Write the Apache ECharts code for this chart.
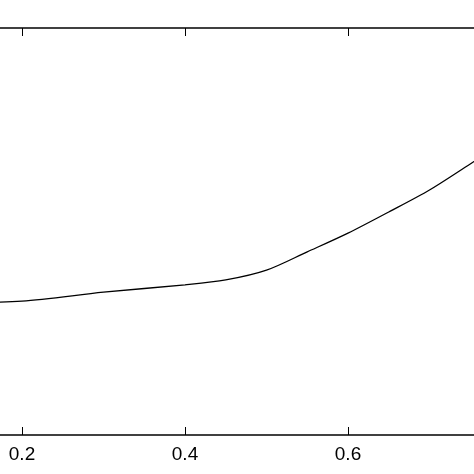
<!DOCTYPE html>
<html>
<head>
<meta charset="utf-8">
<script src="https://cdn.jsdelivr.net/npm/echarts@6/dist/echarts.min.js"></script>
<style>html,body{margin:0;padding:0;background:#fff}#main{width:474px;height:474px}</style>
</head>
<body>
<div id="main"></div>
<script>
// curve
var xValues = [0.1, 0.2, 0.3, 0.4, 0.45, 0.5, 0.55, 0.6, 0.65, 0.7, 0.75, 0.8];
var yValues = [0.324, 0.329, 0.351, 0.369, 0.381, 0.405, 0.45, 0.496, 0.548, 0.602, 0.666, 0.73];
var xTicks = [0.2, 0.4, 0.6];
// visible window of the cropped plot
var xMin = 0.173, xMax = 0.7546;

var pts = xValues.map(function (x, i) { return [x, yValues[i]]; });
function axis(pos, labels) {
    return {
        type: 'value', min: xMin, max: xMax, position: pos,
        axisLine: {lineStyle: {color: '#000', width: 1.5}},
        axisTick: {inside: true, length: 8, customValues: xTicks, lineStyle: {color: '#000'}},
        axisLabel: {show: labels, customValues: xTicks, color: '#000', fontSize: 19,
            fontFamily: 'Liberation Sans', margin: 10,
            formatter: function (v) { return String(Math.round(v * 10) / 10); }},
        splitLine: {show: false}
    };
}
var chart = echarts.init(document.getElementById('main'));
chart.setOption({
    animation: false,
    grid: {left: 0, right: 0, top: 28, bottom: 39},
    xAxis: [axis('bottom', true), axis('top', false)],
    yAxis: {type: 'value', min: 0, max: 1, show: false},
    series: [{
        type: 'line', data: pts, smooth: 0.3, symbol: 'none', clip: true,
        lineStyle: {color: '#000', width: 1.3}
    }]
});
</script>
</body>
</html>
